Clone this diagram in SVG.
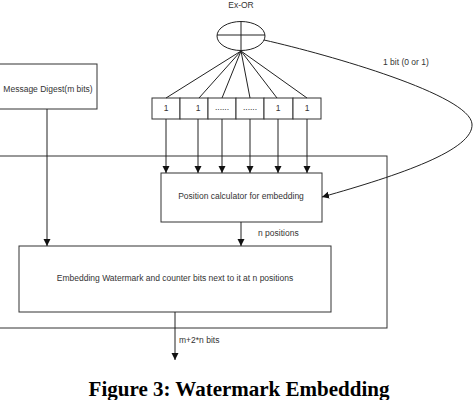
<svg xmlns="http://www.w3.org/2000/svg" width="474" height="400" viewBox="0 0 474 400">
<style>
.box{fill:#fff;stroke:#333;stroke-width:1}
.ln{fill:none;stroke:#222;stroke-width:1}
.t{font-family:"Liberation Sans",Arial,sans-serif;font-size:8.5px;fill:#333;text-anchor:middle}
.tl{font-family:"Liberation Sans",Arial,sans-serif;font-size:8.5px;fill:#333}
.cap{font-family:"Liberation Serif","Times New Roman",serif;font-size:21px;font-weight:bold;fill:#000;text-anchor:middle}
</style>
<defs>
<marker id="ah" markerWidth="8" markerHeight="8" refX="7" refY="4" orient="auto" markerUnits="userSpaceOnUse">
<path d="M0,0.5 L7,4 L0,7.5 Z" fill="#111"/>
</marker>
</defs>
<rect width="474" height="400" fill="#fff"/>
<g id="outer"><rect class="box" x="-1" y="156" width="388" height="172" fill="none"/></g>
<g id="exor">
<ellipse class="ln" cx="241" cy="36" rx="24" ry="14.5"/>
<line class="ln" x1="241" y1="21.5" x2="241" y2="50.5"/>
<line class="ln" x1="217" y1="35" x2="265" y2="35"/>
<text class="t" x="241" y="8">Ex-OR</text>
</g>
<g id="bits">
<rect class="box" x="152" y="98" width="28" height="21"/>
<rect class="box" x="180" y="98" width="28" height="21"/>
<rect class="box" x="208" y="98" width="28" height="21"/>
<rect class="box" x="236" y="98" width="28" height="21"/>
<rect class="box" x="264" y="98" width="29" height="21"/>
<rect class="box" x="293" y="98" width="28" height="21"/>
<text class="t" x="166" y="111">1</text>
<text class="t" x="198" y="111">1</text>
<text class="t" x="222" y="110">......</text>
<text class="t" x="250" y="110">......</text>
<text class="t" x="278" y="111">1</text>
<text class="t" x="307" y="111">1</text>
</g>
<g id="msg">
<rect class="box" x="-1" y="64" width="98" height="45"/>
<text class="t" x="48" y="92">Message Digest(m bits)</text>
</g>
<g id="poscalc">
<rect class="box" x="161" y="173" width="161" height="49"/>
<text class="t" x="241" y="199">Position calculator for embedding</text>
</g>
<g id="embed">
<rect class="box" x="19" y="246" width="312" height="66"/>
<text class="t" x="175" y="281">Embedding Watermark and counter bits next to it at n positions</text>
</g>
<g id="connectors">
<line class="ln" x1="241" y1="51" x2="166" y2="98"/>
<line class="ln" x1="241" y1="51" x2="199" y2="98"/>
<line class="ln" x1="241" y1="51" x2="222" y2="98"/>
<line class="ln" x1="241" y1="51" x2="250" y2="98"/>
<line class="ln" x1="241" y1="51" x2="277" y2="98"/>
<line class="ln" x1="241" y1="51" x2="307" y2="98"/>
<line class="ln" x1="166" y1="119" x2="166" y2="173" marker-end="url(#ah)"/>
<line class="ln" x1="198" y1="119" x2="198" y2="173" marker-end="url(#ah)"/>
<line class="ln" x1="222" y1="119" x2="222" y2="173" marker-end="url(#ah)"/>
<line class="ln" x1="250" y1="119" x2="250" y2="173" marker-end="url(#ah)"/>
<line class="ln" x1="278" y1="119" x2="278" y2="173" marker-end="url(#ah)"/>
<line class="ln" x1="307" y1="119" x2="307" y2="173" marker-end="url(#ah)"/>
<line class="ln" x1="47" y1="109" x2="47" y2="246" marker-end="url(#ah)"/>
<line class="ln" x1="241" y1="222" x2="241" y2="246" marker-end="url(#ah)"/>
<line class="ln" x1="175" y1="312" x2="175" y2="360" marker-end="url(#ah)"/>
<path class="ln" d="M264,40 C330,55 470,95 472,124 C474,150 400,175 322,197" marker-end="url(#ah)"/>
<text class="tl" x="383" y="65">1 bit (0 or 1)</text>
<text class="tl" x="258" y="236">n positions</text>
<text class="tl" x="179" y="343">m+2*n bits</text>
</g>
<text class="cap" x="239" y="396">Figure 3: Watermark Embedding</text>
</svg>
